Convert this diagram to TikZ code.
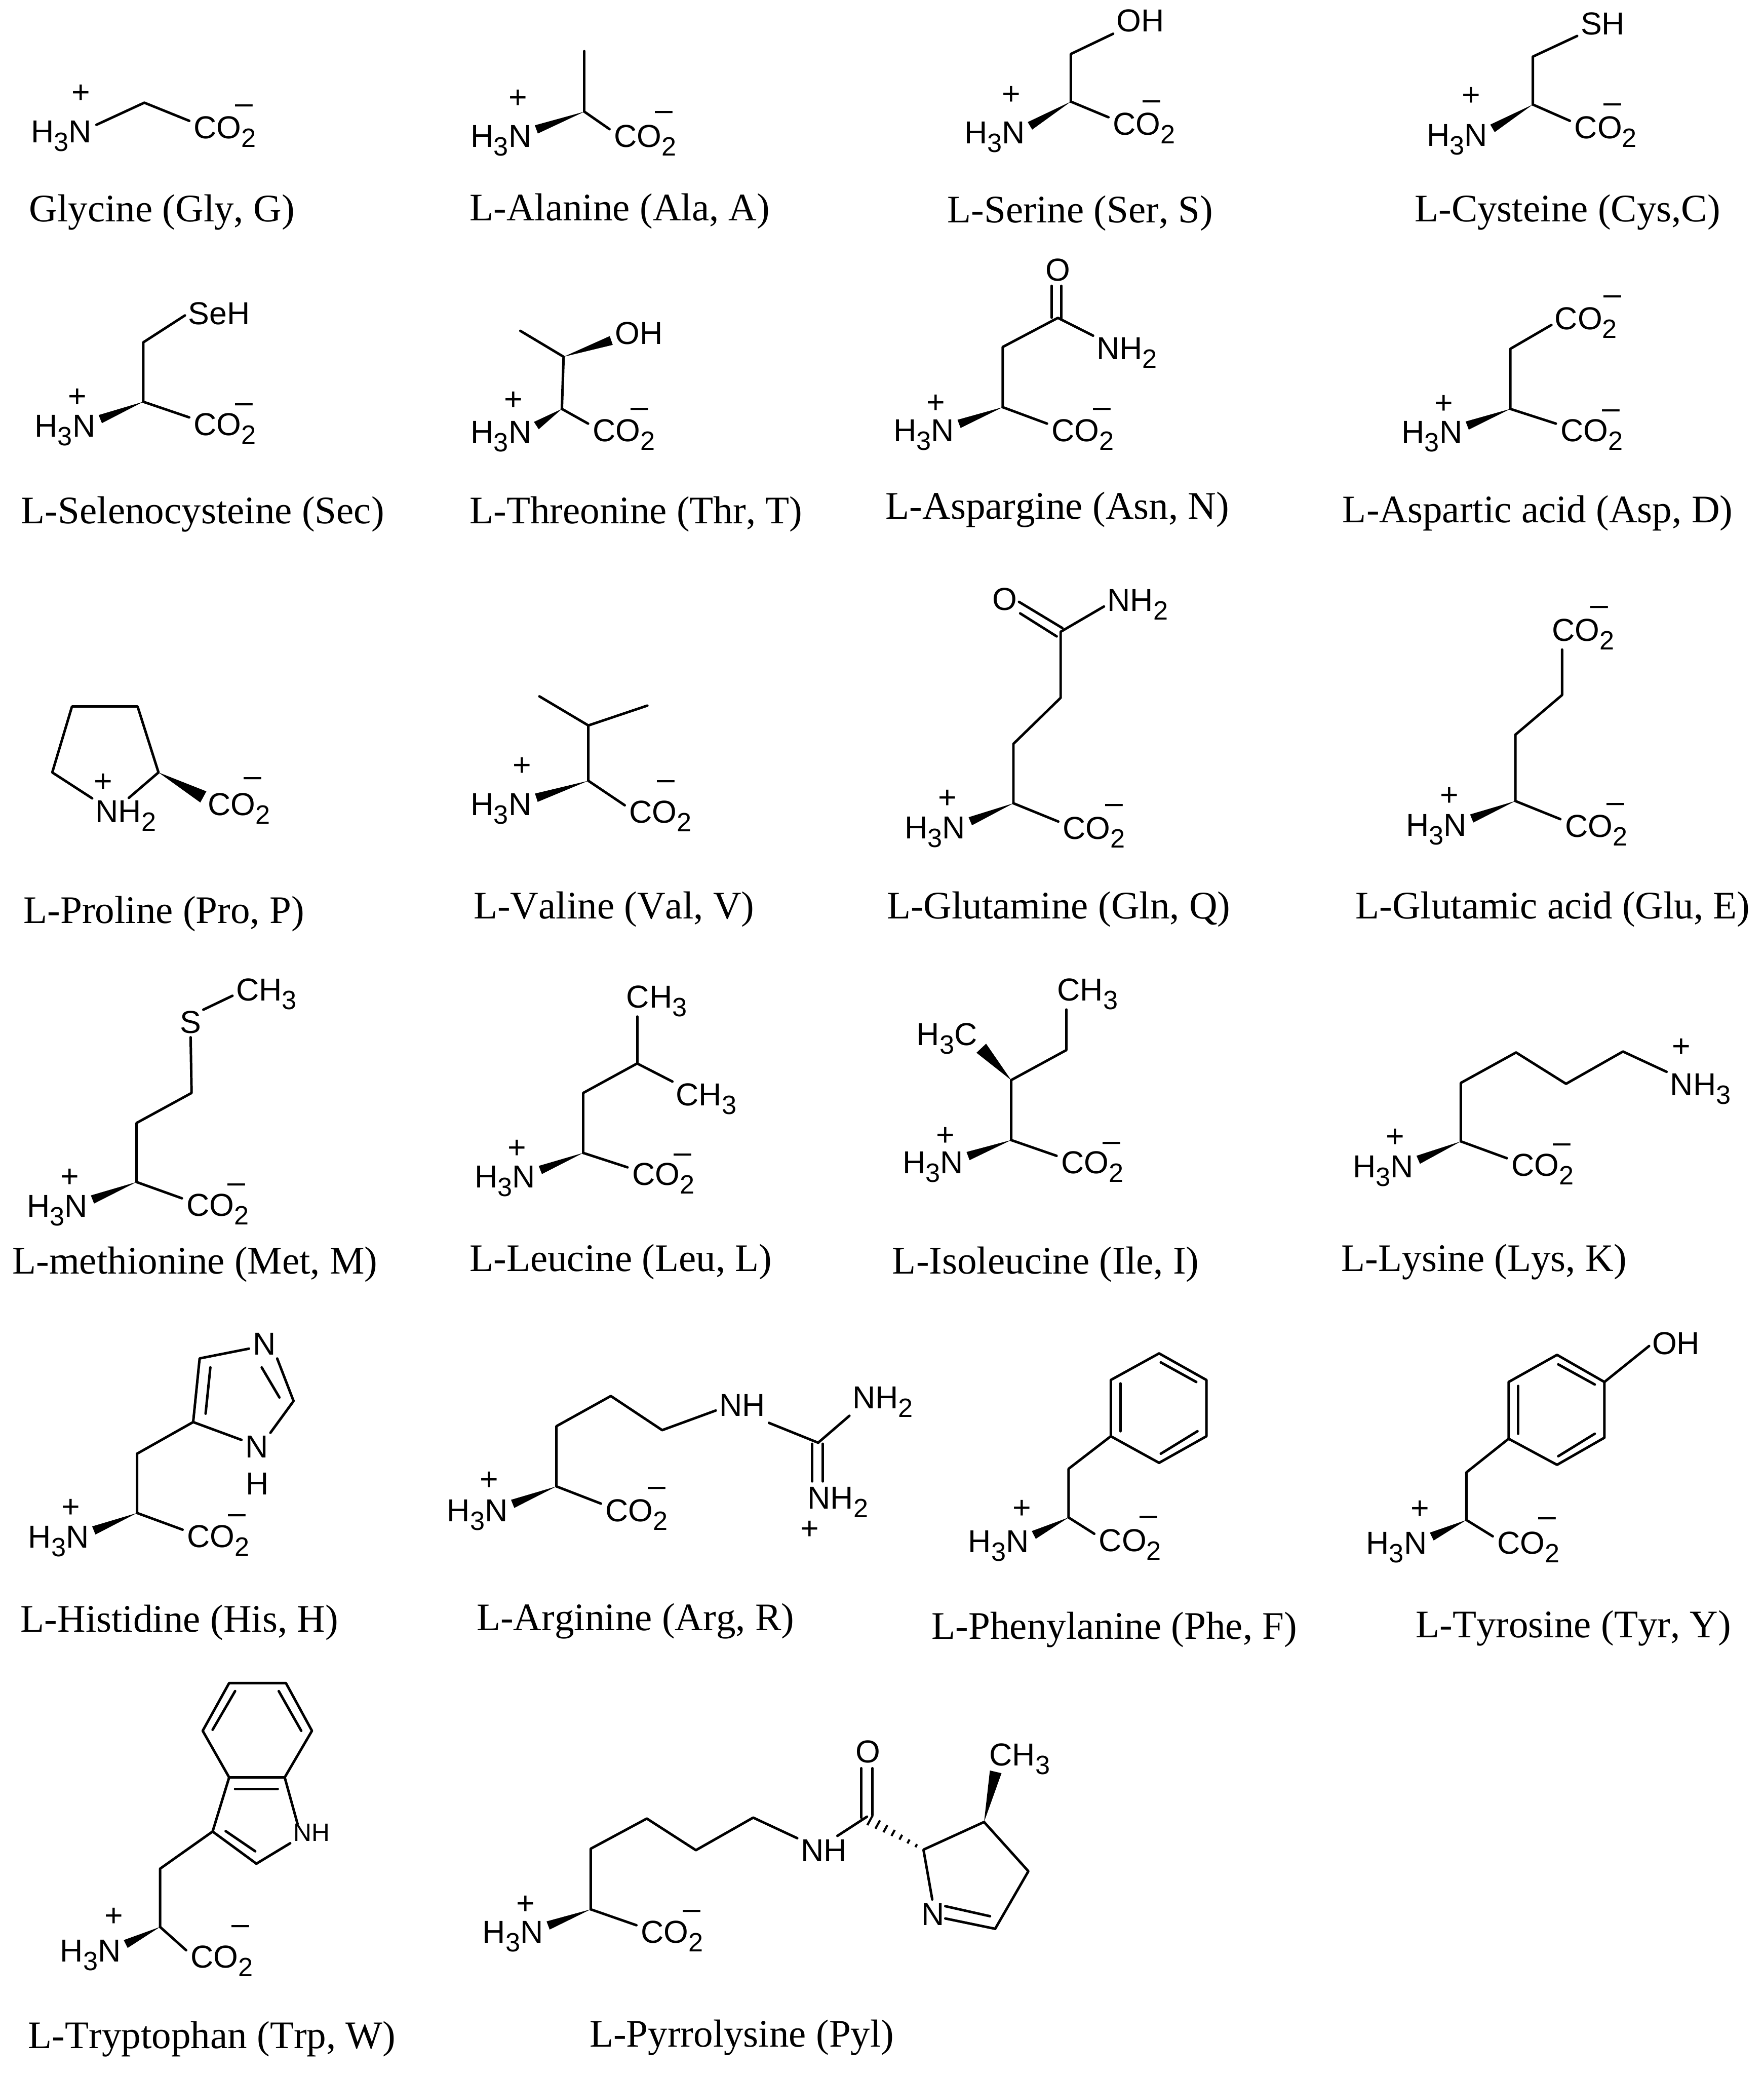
\documentclass[tikz,border=0pt]{standalone}
\usepackage{fontspec}
\setmainfont[Kerning=Off]{Liberation Serif}
\newfontfamily\chemfont{Liberation Sans}
\usetikzlibrary{calc}
\newcommand{\lo}[1]{\raisebox{-6.5pt}{\fontsize{20}{20}\selectfont #1}}
\newcommand{\wedgebond}[3]{\fill (#2) -- ($(#3)!#1pt!90:(#2)$) -- ($(#3)!#1pt!-90:(#2)$) -- cycle;}
\newcommand{\aalabels}[5]{%
\node (#1n) at (#2) [lab] {H\lo{3}N};
\node (#1c) at (#3) [lab] {CO\lo{2}};
\node (#1plus) at (#4) [plussign] {+};
\node (#1minus) at (#5) [minussign] {\textendash};
\coordinate (#1nend) at ([shift={(49.5,-13.3)}]#2);
\coordinate (#1cend) at ([shift={(-3.5,-13.5)}]#3);
}
\newcommand{\aacore}[6]{%
\aalabels{#1}{#2}{#4}{#5}{#6}
\coordinate (#1ca) at (#3);
\wedgebond{3.3}{#1ca}{#1nend}
\draw[bond] (#1ca) -- (#1cend);
}
\begin{document}
\begin{tikzpicture}[x=1pt,y=-1pt,
  bond/.style={line width=1.9pt,line cap=round,line join=round},
  tolab/.style={bond,shorten >=3pt},
  hashbond/.style={line width=1.6pt},
  lab/.style={inner sep=0pt,outer sep=0pt,anchor=base west,font=\chemfont\fontsize{24}{24}\selectfont},
  labsm/.style={lab,font=\chemfont\fontsize{19}{19}\selectfont},
  plussign/.style={lab,anchor=base,yshift=-8.4pt},
  minussign/.style={lab,anchor=base,yshift=-6.6pt},
  caption/.style={inner sep=0pt,outer sep=0pt,anchor=base west,yshift=-0.7pt,font=\fontsize{29.5}{29.5}\selectfont}]
\useasboundingbox (0,0) rectangle (1333,1568);
% top row
\aalabels{gly}{23.4,107.6}{146.5,104.8}{61.2,69.4}{184.3,79.5}
\draw[bond] (glynend) -- (109.1,77.6) -- (glycend);
\node (glycap) at (22,166.6) [caption] {Glycine (Gly, G)};
\aacore{ala}{355.9,111.1}{441.7,84.4}{464.2,111.1}{391.6,73.5}{502,84.4}
\draw[bond] (alaca) -- (441.7,38.7);
\node (alacap) at (355,166.1) [caption] {L-Alanine (Ala, A)};
\aacore{ser}{729,108.4}{809.4,76.8}{841.3,102.1}{764.3,70.8}{870.6,76.2}
\node (seroh) at (843.8,24) [lab] {OH};
\draw[tolab] (serca) -- (809.4,40.8) -- (seroh);
\node (sercap) at (716.2,167.5) [caption] {L-Serine (Ser, S)};
\aacore{cys}{1078.6,110.3}{1158.6,79}{1190.1,104.8}{1111.8,71.3}{1219,78.4}
\node (cyssh) at (1194.8,26.4) [lab] {SH};
\draw[tolab] (cysca) -- (1158.6,42.8) -- (cyssh);
\node (cyscap) at (1069.3,166.6) [caption] {L-Cysteine (Cys,C)};
% second row
\aacore{sec}{26.3,330}{108.3,303.6}{146.5,328.9}{58.6,299}{184.3,305.2}
\node (secseh) at (142.3,245) [lab] {SeH};
\draw[tolab] (secca) -- (108.3,258.7) -- (secseh.west);
\node (seccap) at (16,394.8) [caption] {L-Selenocysteine (Sec)};
\aacore{thr}{355.9,334.9}{424.7,309}{448,333.6}{388.2,301.4}{483.3,308.8}
\node (throh) at (465,260) [lab] {OH};
\coordinate (thrcb) at (426,269.6);
\coordinate (thrwe) at (462,257.3);
\draw[bond] (thrca) -- (thrcb) -- (393.3,250);
\wedgebond{3.5}{thrcb}{thrwe}
\node (thrcap) at (355,394.8) [caption] {L-Threonine (Thr, T)};
\aacore{asn}{675.4,333.6}{757.9,307.7}{794.9,333.6}{707.3,303.6}{832.8,308.8}
\node (asno) at (790.2,212.4) [lab] {O};
\node (asnnh) at (828.9,271.5) [lab] {NH\lo{2}};
\draw[tolab] (asnca) -- (757.9,262.2) -- (799.6,240.2) coordinate (asncg) -- (asnnh.north west);
\draw[bond] (794.9,216) -- (794.9,240);
\draw[bond] (802.1,216) -- (802.1,241);
\node (asncap) at (669.4,391.3) [caption] {L-Aspargine (Asn, N)};
\aacore{asp}{1059.5,334.9}{1141.6,309}{1179.5,333.6}{1091.4,304.2}{1217.7,309.9}
\node (aspcb) at (1175.2,249.2) [lab] {CO\lo{2}};
\node (aspcbm) at (1219,223.8) [minussign] {\textendash};
\draw[tolab] (aspca) -- (1141.6,263.6) -- (aspcb.west);
\node (aspcap) at (1014.8,394.3) [caption] {L-Aspartic acid (Asp, D)};
% third row
\node (pron) at (72.2,621.4) [lab] {NH\lo{2}};
\node (proplus) at (78.1,590) [plussign] {+};
\node (proc) at (157.1,616.1) [lab] {CO\lo{2}};
\node (prominus) at (191.1,587.9) [minussign] {\textendash};
\coordinate (proca) at (119.8,583.7);
\coordinate (prowe) at (153.7,602.2);
\draw[bond,shorten <=3pt,shorten >=3pt] (pron.north west) -- (39.5,583.7) -- (54.4,533.9) -- (104,533.9) -- (proca) -- (pron.north);
\wedgebond{4.8}{proca}{prowe}
\node (procap) at (17.8,697) [caption] {L-Proline (Pro, P)};
\aacore{val}{355.9,616.1}{444.7,590}{475.7,622}{394.5,577.8}{503.3,590}
\draw[bond] (valca) -- (444.7,548.2) coordinate (valcb) -- (407.7,526.2);
\draw[bond] (valcb) -- (489.3,533.2);
\node (valcap) at (358,693.5) [caption] {L-Valine (Val, V)};
\aacore{gln}{683.9,633.9}{766,607}{803.4,634.3}{716.2,602.2}{842.1,608.1}
\node (glno) at (750.2,461) [lab] {O};
\node (glnnh) at (837,461.8) [lab] {NH\lo{2}};
\draw[tolab] (glnca) -- (766,562.1) -- (801.7,527.3) -- (801.7,477.4) coordinate (glncd) -- (glnnh.west);
\draw[bond] (770.2,454.8) -- (803,474.6);
\draw[bond] (771.1,463.5) -- (798.7,480.9);
\node (glncap) at (670.3,693.5) [caption] {L-Glutamine (Gln, Q)};
\aacore{glu}{1062.9,631.8}{1145.4,605.3}{1182.9,632.5}{1095.7,600.5}{1221.2,607.1}
\node (glucd) at (1173,484.4) [lab] {CO\lo{2}};
\node (glucdm) at (1208.8,458.3) [minussign] {\textendash};
\coordinate (glucg) at (1180.7,525.2);
\draw[bond] (gluca) -- (1145.4,555.2) -- (glucg) -- (glucg |- glucd.south);
\node (glucap) at (1024.6,693.5) [caption] {L-Glutamic acid (Glu, E)};
% fourth row
\aacore{met}{20.4,919.7}{103.2,893.2}{141,919}{52.7,888.7}{178.8,894.6}
\node (mets) at (135.9,780.6) [lab] {S};
\node (metme) at (178.4,756.2) [lab] {CH\lo{3}};
\draw[tolab] (metca) -- (103.2,848.6) -- (144.8,825.9) -- (mets);
\draw[tolab,shorten <=2pt] (mets.north east) -- (metme.west);
\node (metcap) at (9.3,961.8) [caption] {L-methionine (Met, M)};
\aacore{leu}{358.9,897.4}{440.8,871.2}{477.8,895.6}{390.7,866.7}{516,872.3}
\node (leumea) at (473.5,761.5) [lab] {CH\lo{3}};
\node (leumeb) at (510.9,835.4) [lab] {CH\lo{3}};
\coordinate (leucg) at (481.6,803.6);
\draw[tolab] (leuca) -- (440.8,825.9) -- (leucg) -- (leumeb.north west);
\draw[bond] (leucg) -- (leucg |- leumea.south);
\node (leucap) at (355,960.1) [caption] {L-Leucine (Leu, L)};
\aacore{ile}{682.2,886.9}{764.3,861.5}{802.1,886.9}{714.5,857.3}{840.4,863.2}
\node (ileh) at (692.8,790) [lab] {H\lo{3}C};
\node (ileme) at (799.1,756.2) [lab] {CH\lo{3}};
\coordinate (ilecb) at (764.3,816.2);
\coordinate (ilecg) at (806,793.5);
\coordinate (ilewe) at (741.7,792.1);
\draw[bond] (ileca) -- (ilecb) -- (ilecg) -- (ilecg |- ileme.south);
\wedgebond{5}{ilecb}{ilewe}
\node (ilecap) at (674.5,961.8) [caption] {L-Isoleucine (Ile, I)};
\aacore{lys}{1022.5,889.7}{1104.2,862.5}{1142.4,888.7}{1054.4,858.3}{1180.7,864.3}
\node (lysnh) at (1262.4,827.7) [lab] {NH\lo{3}};
\node (lysplusb) at (1270.9,790.4) [plussign] {+};
\draw[tolab] (lysca) -- (1104.2,818.3) -- (1145.9,795.3) -- (1183.7,819) -- (1226.7,794.6) -- (lysnh.north west);
\node (lyscap) at (1014,960.1) [caption] {L-Lysine (Lys, K)};
% fifth row
\aacore{his}{21.4,1169.8}{103.6,1143.3}{141.5,1169.4}{53.6,1138.4}{179,1144.8}
\node (hisnb) at (191.1,1023.8) [lab] {N};
\node (hisna) at (185.3,1101.6) [lab] {N};
\node (hish) at (185.7,1129.6) [lab] {H};
\coordinate (hiscd) at (146,1074.6);
\coordinate (hisce) at (150.9,1026.5);
\coordinate (hiscf) at (221.9,1058.7);
\draw[bond] (hisca) -- (103.6,1098.5) -- (hiscd);
\draw[tolab] (hiscd) -- (hisce) -- ([yshift=-3pt]hisnb.west);
\draw[tolab] (hiscd) -- ([yshift=-4pt]hisna.north west);
\draw[bond,shorten <=3pt,shorten >=3pt] (hisnb.south east) -- (hiscf) -- (hisna.north east);
\draw[bond] (155.4,1068.2) -- (159,1033.3);
\draw[bond] (197.8,1033.3) -- (211.2,1056);
\node (hiscap) at (15.6,1232.4) [caption] {L-Histidine (His, H)};
\aacore{arg}{338,1149.7}{420.6,1123.2}{457.7,1149.7}{369.7,1117.5}{496.5,1123.9}
\node (argnh) at (543.8,1070.1) [lab] {NH};
\node (argnha) at (644.3,1064.4) [lab] {NH\lo{2}};
\node (argnhb) at (610.4,1140.2) [lab] {NH\lo{2}};
\node (argplusb) at (612.2,1154.7) [plussign] {+};
\coordinate (argcz) at (618.4,1090.2);
\draw[tolab] (argca) -- (420.6,1077.7) -- (461.7,1054.9) -- (500.5,1080.7) -- ([yshift=-3pt]argnh.west);
\draw[bond,shorten <=3pt] ([yshift=-4pt]argnh.south east) -- (argcz);
\draw[tolab] (argcz) -- ([yshift=3pt]argnha.south west);
\draw[bond] (613.9,1091) -- (613.9,1119.4);
\draw[bond] (622,1091) -- (622,1119.4);
\node (argcap) at (360.3,1231.3) [caption] {L-Arginine (Arg, R)};
\aacore{phe}{731.9,1173.2}{807.7,1146.7}{830.6,1172.5}{772.4,1139.1}{868.1,1145.9}
\draw[bond] (pheca) -- (807.7,1109.9) -- (839.6,1085.3) coordinate (phecg);
\draw[bond] (phecg) -- (839.6,1042.8) -- (876.1,1022.7) -- (911.9,1042.8) -- (911.9,1085.3) -- (876.1,1105.4) -- cycle;
\draw[bond] (846.8,1045.4) -- (846.8,1081.5);
\draw[bond] (877.4,1029.5) -- (904.2,1044.3);
\draw[bond] (877.4,1098.5) -- (905.1,1081.5);
\node (phecap) at (704.3,1237.7) [caption] {L-Phenylanine (Phe, F)};
\aacore{tyr}{1032.7,1174.4}{1108.4,1148.6}{1131.8,1174.4}{1073.5,1139.5}{1169.3,1147.1}
\node (tyroh) at (1248.8,1023.5) [lab] {OH};
\draw[bond] (tyrca) -- (1108.4,1112.6) -- (1140.3,1087.2) coordinate (tyrcg);
\draw[bond] (tyrcg) -- (1140.3,1044.3) -- (1176.9,1023.8) -- (1212.7,1044.3) coordinate (tyrcz) -- (1212.7,1086.4) -- (1176.9,1106.9) -- cycle;
\draw[tolab] (tyrcz) -- (tyroh.west);
\draw[bond] (1147.6,1047.3) -- (1147.6,1083.4);
\draw[bond] (1177.8,1031) -- (1205.4,1046.2);
\draw[bond] (1177.8,1100.4) -- (1205.4,1083.4);
\node (tyrcap) at (1070.1,1236.9) [caption] {L-Tyrosine (Tyr, Y)};
% last row
\aacore{trp}{45.5,1482.3}{121,1456.1}{144.2,1487.2}{86.2,1447.4}{181.7,1455}
\node (trpnh) at (221.9,1391.3) [labsm] {NH};
\coordinate (trpcg) at (160.7,1384);
\coordinate (trpcd) at (193.8,1408.3);
\coordinate (trpcc) at (173.2,1343.1);
\coordinate (trpcf) at (215.2,1343.1);
\draw[bond] (trpca) -- (121,1412.1) -- (trpcg) -- (trpcd);
\draw[tolab] (trpcd) -- (trpnh.south west);
\draw[bond] (trpcg) -- (trpcc);
\draw[bond] (trpcc) -- (153.2,1307.9) -- (173.2,1271.8) -- (216.1,1271.8) -- (235.8,1307.9) -- (trpcf) -- cycle;
\draw[bond] (trpcf) -- ([xshift=3pt]trpnh.north west);
\draw[bond] (177.7,1351.8) -- (209.9,1351.8);
\draw[bond] (170.6,1383.7) -- (192.9,1398.9);
\draw[bond] (160.7,1307.1) -- (177.7,1277.9);
\draw[bond] (210.7,1277.9) -- (227.7,1307.9);
\node (trpcap) at (21.4,1547) [caption] {L-Tryptophan (Trp, W)};
\aacore{pyl}{364.8,1468.3}{446.5,1442.8}{484.5,1468.3}{397.4,1437.9}{522.9,1443.6}
\node (pylnh) at (605.3,1406.8) [lab] {NH};
\node (pylo) at (646.9,1332) [lab] {O};
\node (pylme) at (747.9,1334.3) [lab] {CH\lo{3}};
\node (pylna) at (696.5,1454.8) [lab] {N};
\coordinate (pylcd) at (655.3,1372.8);
\coordinate (pylha) at (657.6,1375.5);
\coordinate (pylce) at (698,1397.7);
\coordinate (pylcf) at (743.8,1376.8);
\coordinate (pylwe) at (752.6,1338.9);
\coordinate (pylcj) at (752.2,1457.5);
\draw[tolab] (pylca) -- (446.5,1397) -- (488.9,1374.2) -- (526,1398.1) -- (569.3,1373.5) -- (pylnh.north west);
\draw[bond] (pylcd) -- ([xshift=-7pt,yshift=3pt]pylnh.north east);
\draw[bond] (651,1336.2) -- (651,1373.5);
\draw[bond] (659.4,1336.2) -- (659.4,1371.5);
\foreach \t/\h in {0/4.2,0.144/3.6,0.288/3.1,0.432/2.6,0.576/2.1,0.72/1.7,0.864/1.3}
  \draw[hashbond] ($(pylha)!\t!(pylce)!\h pt!90:(pylce)$) -- ($(pylha)!\t!(pylce)!\h pt!-90:(pylce)$);
\wedgebond{4.5}{pylcf}{pylwe}
\draw[tolab] (pylcj) -- (777.3,1414) -- (pylcf) -- (pylce) -- (pylna.north);
\draw[bond] (714.5,1449.7) -- (pylcj);
\draw[bond] (714.5,1440.4) -- (748.3,1448);
\node (pylcap) at (445.6,1546) [caption] {L-Pyrrolysine (Pyl)};
\end{tikzpicture}
\end{document}
